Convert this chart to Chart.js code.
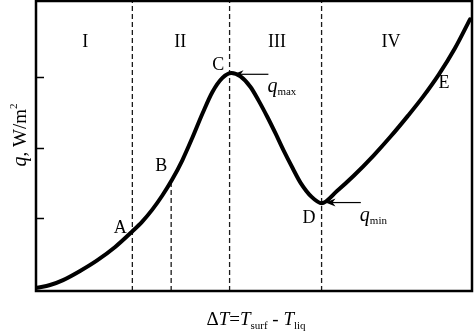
<!DOCTYPE html>
<html>
<head>
<meta charset="utf-8">
<script src="https://cdn.jsdelivr.net/npm/chart.js@4/dist/chart.umd.min.js"></script>
<style>
  html, body { margin: 0; padding: 0; background: #fff; }
  #wrap { width: 474px; height: 331px; }
</style>
</head>
<body>
<div id="wrap"><canvas id="chart"></canvas></div>
<script>
// boiling curve (x: 0..100 arbitrary dT, y: q in tick units)
const curveX = [0.23, 3.22, 6.21, 10.11, 14.02, 18.16, 22.07, 24.37, 26.67, 28.97, 31.26, 33.56, 35.86, 38.16, 40.46, 42.76, 44.83, 46.90, 49.20, 51.03, 53.10, 54.94, 56.78, 58.85, 60.69, 63.22, 65.52, 68.97, 72.87, 77.47, 81.38, 85.29, 88.74, 92.41, 96.09, 99.54];
const curveY = [0.01, 0.05, 0.12, 0.25, 0.40, 0.59, 0.81, 0.95, 1.12, 1.32, 1.55, 1.82, 2.14, 2.48, 2.79, 2.99, 3.06, 3.01, 2.86, 2.67, 2.43, 2.20, 1.96, 1.71, 1.50, 1.30, 1.21, 1.38, 1.60, 1.89, 2.16, 2.45, 2.72, 3.04, 3.41, 3.82];

// vertical dashed boundaries: x and top y
const vLineX = [22.1, 31.0, 44.4, 65.5];
const vLineTop = [4.1, 1.54, 4.1, 4.1];

const yTicks = [1, 2, 3];

const regionNames = ['I', 'II', 'III', 'IV'];
const regionX = [11.3, 33.1, 55.3, 81.4];
const regionY = 3.5;

const pointNames = ['A', 'B', 'C', 'D', 'E'];
const pointX = [19.3, 28.7, 41.8, 62.6, 93.6];
const pointY = [0.86, 1.73, 3.17, 1.00, 2.91];

// q_max / q_min arrows: tip x, tail x, y
const arrowTip = [45.3, 66.4];
const arrowTail = [53.3, 74.5];
const arrowY = [3.04, 1.22];
const arrowSub = ['max', 'min'];

const X_MIN = 0, X_MAX = 100, Y_MIN = -0.035, Y_MAX = 4.08;
const SERIF = '"Liberation Serif", "DejaVu Serif", serif';

const datasets = [{
  data: curveX.map((x, i) => ({ x, y: curveY[i] })),
  borderColor: '#000',
  borderWidth: 4,
  pointRadius: 0,
  cubicInterpolationMode: 'monotone',
  borderCapStyle: 'round',
  borderJoinStyle: 'round',
  order: 0
}];
vLineX.forEach((x, i) => {
  datasets.push({
    data: [{ x, y: Y_MIN }, { x, y: vLineTop[i] }],
    borderColor: '#1a1a1a',
    borderWidth: 1.3,
    borderDash: [5, 3],
    pointRadius: 0,
    order: 1
  });
});

function richText(ctx, parts, x, y) {
  // parts: [text, font, dy]
  let cx = x;
  parts.forEach(p => {
    ctx.font = p[1];
    ctx.fillText(p[0], cx, y + (p[2] || 0));
    cx += ctx.measureText(p[0]).width;
  });
  return cx - x;
}
function richWidth(ctx, parts) {
  let w = 0;
  parts.forEach(p => { ctx.font = p[1]; w += ctx.measureText(p[0]).width; });
  return w;
}

const decor = {
  id: 'decor',
  afterDatasetsDraw(chart) {
    const { ctx, chartArea: a, scales: { x, y } } = chart;
    ctx.save();
    ctx.strokeStyle = '#000';
    ctx.fillStyle = '#000';

    // frame
    ctx.lineWidth = 2.5;
    ctx.strokeRect(a.left, a.top, a.right - a.left, a.bottom - a.top);

    // inward ticks on left axis
    ctx.lineWidth = 1.5;
    yTicks.forEach(v => {
      const py = Math.round(y.getPixelForValue(v)) + 0.5;
      ctx.beginPath();
      ctx.moveTo(a.left, py);
      ctx.lineTo(a.left + 8, py);
      ctx.stroke();
    });

    ctx.textAlign = 'center';
    ctx.textBaseline = 'middle';
    ctx.font = '18px ' + SERIF;
    regionNames.forEach((t, i) => ctx.fillText(t, x.getPixelForValue(regionX[i]), y.getPixelForValue(regionY)));
    pointNames.forEach((t, i) => ctx.fillText(t, x.getPixelForValue(pointX[i]), y.getPixelForValue(pointY[i])));

    // arrows with q labels
    ctx.textAlign = 'left';
    ctx.textBaseline = 'alphabetic';
    arrowTip.forEach((tx, i) => {
      const px0 = x.getPixelForValue(tx);
      const px1 = x.getPixelForValue(arrowTail[i]);
      const py = y.getPixelForValue(arrowY[i]);
      ctx.lineWidth = 1.2;
      ctx.beginPath();
      ctx.moveTo(px0 + 6, py);
      ctx.lineTo(px1, py);
      ctx.stroke();
      ctx.beginPath();
      ctx.moveTo(px0, py);
      ctx.lineTo(px0 + 10, py - 4);
      ctx.lineTo(px0 + 7, py);
      ctx.lineTo(px0 + 10, py + 4);
      ctx.closePath();
      ctx.fill();
      richText(ctx, [
        ['q', 'italic 20px ' + SERIF, 0],
        [arrowSub[i], '11px ' + SERIF, 3]
      ], px1 - 1, py + 18);
    });

    ctx.restore();
  },
  afterDraw(chart) {
    const { ctx, chartArea: a } = chart;
    ctx.save();
    ctx.fillStyle = '#000';
    ctx.textAlign = 'left';
    ctx.textBaseline = 'alphabetic';

    // x title
    const xParts = [
      ['\u0394', '19px ' + SERIF, 0],
      ['T', 'italic 19px ' + SERIF, 0],
      ['=', '19px ' + SERIF, 0],
      ['T', 'italic 19px ' + SERIF, 0],
      ['surf', '11px ' + SERIF, 4],
      [' - ', '19px ' + SERIF, 0],
      ['T', 'italic 19px ' + SERIF, 0],
      ['liq', '11px ' + SERIF, 4]
    ];
    const cx = (a.left + a.right) / 2 + 2;
    richText(ctx, xParts, cx - richWidth(ctx, xParts) / 2, 325);

    // y title, rotated
    const yParts = [
      ['q', 'italic 20px ' + SERIF, 0],
      [', W/m', '19px ' + SERIF, 0],
      ['2', '11px ' + SERIF, -9]
    ];
    ctx.translate(26, 135);
    ctx.rotate(-Math.PI / 2);
    richText(ctx, yParts, -richWidth(ctx, yParts) / 2, 0);
    ctx.restore();
  }
};

new Chart(document.getElementById('chart'), {
  type: 'line',
  data: { datasets },
  options: {
    responsive: true,
    maintainAspectRatio: false,
    animation: false,
    parsing: true,
    layout: { padding: { left: 36, right: 2, top: 1, bottom: 40 } },
    plugins: { legend: { display: false }, tooltip: { enabled: false } },
    scales: {
      x: { type: 'linear', min: X_MIN, max: X_MAX, display: false },
      y: { type: 'linear', min: Y_MIN, max: Y_MAX, display: false }
    }
  },
  plugins: [decor]
});
</script>
</body>
</html>
